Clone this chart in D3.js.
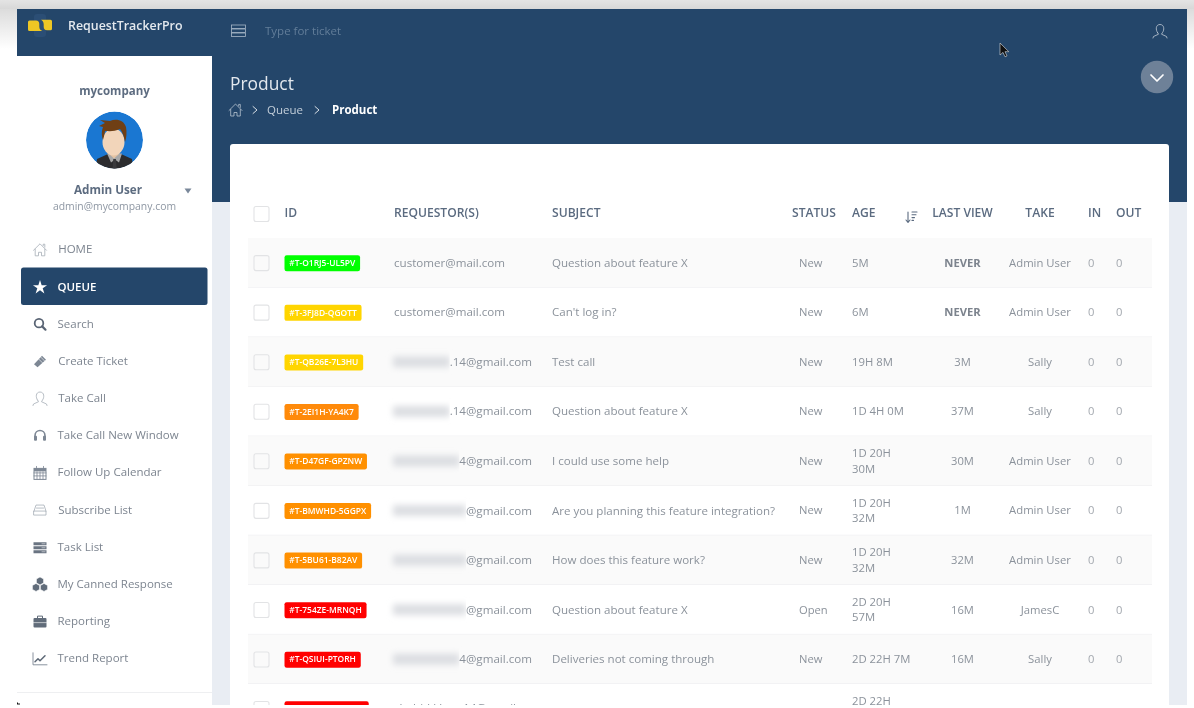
<!DOCTYPE html>
<html><head><meta charset="utf-8">
<script src="https://cdn.jsdelivr.net/npm/d3@7"></script>
<style>
html,body{margin:0;padding:0;background:#fff;overflow:hidden}
svg{display:block;font-family:"Open Sans",sans-serif;filter:blur(.45px)}
</style></head><body><div id="app"></div>
<script>
const ticketIds=["#T-O1RJ5-UL5PV","#T-3FJ8D-QGOTT","#T-QB26E-7L3HU","#T-2EI1H-YA4K7","#T-D47GF-GPZNW","#T-BMWHD-5GGPX","#T-5BU61-B82AV","#T-754ZE-MRNQH","#T-QSIUI-PTORH","#T-8KD2X-WLMNA"];
const pillColors=["#00ff00","#ffd500","#ffd500","#ff8a0a","#ff9000","#ff9000","#ff9000","#ff0000","#ff0000","#ff0000"];
const requestors=["customer@mail.com","customer@mail.com",".14@gmail.com",".14@gmail.com","4@gmail.com","@gmail.com","@gmail.com","@gmail.com","4@gmail.com","shahid.khan.14@gmail.com"];
const subjects=["Question about feature X","Can't log in?","Test call","Question about feature X","I could use some help","Are you planning this feature integration?","How does this feature work?","Question about feature X","Deliveries not coming through","Sales"];
const statuses=["New","New","New","New","New","New","New","Open","New","New"];
const ages=[["5M"],["6M"],["19H 8M"],["1D 4H 0M"],["1D 20H","30M"],["1D 20H","32M"],["1D 20H","32M"],["2D 20H","57M"],["2D 22H 7M"],["2D 22H","7M"]];
const lastViews=["NEVER","NEVER","3M","37M","30M","1M","32M","16M","16M","22M"];
const takes=["Admin User","Admin User","Sally","Sally","Admin User","Admin User","Admin User","JamesC","Sally","Sally"];
const inCounts=[0,0,0,0,0,0,0,0,0,0];
const outCounts=[0,0,0,0,0,0,0,0,0,0];
const headers=["ID","REQUESTOR(S)","SUBJECT","STATUS","AGE","LAST VIEW","TAKE","IN","OUT"];
const menuItems=["HOME","QUEUE","Search","Create Ticket","Take Call","Take Call New Window","Follow Up Calendar","Subscribe List","Task List","My Canned Response","Reporting","Trend Report"];

const W=1194,H=708,NAVY="#24466a",HEAD="#5b6b80",TXT="#8b929b";
const svg=d3.select("#app").append("svg").attr("width",W).attr("height",H).attr("viewBox",`0 0 ${W} ${H}`);
const defs=svg.append("defs");
const g1=defs.append("linearGradient").attr("id","top").attr("x1",0).attr("x2",0).attr("y1",0).attr("y2",1);
g1.append("stop").attr("offset",0).attr("stop-color","#e4e4e4");
g1.append("stop").attr("offset",1).attr("stop-color","#d8d8d8");
const g2=defs.append("linearGradient").attr("id","side").attr("x1",0).attr("x2",0).attr("y1",0).attr("y2",1);
g2.append("stop").attr("offset",0).attr("stop-color","#dcdcdc");
g2.append("stop").attr("offset",1).attr("stop-color","#ffffff");
defs.append("filter").attr("id","smear").attr("x","-20%").attr("y","-80%").attr("width","140%").attr("height","260%")
  .append("feGaussianBlur").attr("stdDeviation",3.2);
defs.append("clipPath").attr("id","page").append("rect").attr("x",0).attr("y",0).attr("width",W).attr("height",705);

const rect=(p,x,y,w,h,f,r)=>p.append("rect").attr("x",x).attr("y",y).attr("width",w).attr("height",h).attr("fill",f).attr("rx",r||0);
const text=(p,x,y,s,size,col,wt,anc)=>p.append("text").attr("x",x).attr("y",y).attr("dy","0.35em").text(s)
  .attr("font-size",size).attr("fill",col).attr("font-weight",wt||400).attr("text-anchor",anc||"start");
const stroke=(p,d,col,sw)=>p.append("path").attr("d",d).attr("fill","none").attr("stroke",col).attr("stroke-width",sw||1).attr("stroke-linecap","round").attr("stroke-linejoin","round");
const fill=(p,d,col)=>p.append("path").attr("d",d).attr("fill",col);

// window chrome
rect(svg,0,0,W,9,"url(#top)");
rect(svg,0,9,17,40,"url(#side)");
rect(svg,1187,9,7,40,"url(#side)");

const page=svg.append("g").attr("clip-path","url(#page)");
rect(page,17,9,1170,696,"#e9edf3");
rect(page,17,9,1170,193,NAVY);
rect(page,17,56,195,650,"#ffffff");

// logo
rect(page,34,14,12,23,"#2b4e75",3);
fill(page,"M29.5 20.5H36C38.3 20.5 39.3 22 39.3 24V26.5C39.3 29 40.5 30.3 42.3 31H29.5Q28 31 28 29.5V22Q28 20.5 29.5 20.5Z","#eec724");
fill(page,"M50.5 19.8Q52 19.8 52 21.3V28.8Q52 30.3 50.5 30.3H47C44.7 30.3 43.7 28.8 43.7 26.8V24.3C43.7 22 42.5 20.6 41 19.8Z","#eec724");
text(page,68,26,"RequestTrackerPro",12.4,"#e4e9ee",600);

// top bar
const ham=page.append("g");
[25,29,33].forEach(y=>ham.append("rect").attr("x",231.5).attr("y",y).attr("width",14).attr("height",3.4).attr("fill","none").attr("stroke","#a9b8c8").attr("stroke-width",.8));
text(page,265,31,"Type for ticket",11.5,"#627d99");
const user=(p,x,y,c)=>{const u=p.append("g").attr("transform",`translate(${x},${y})`);
  stroke(u,"M-2.5 1.5C-4.5-1-4.4-6.5 0-6.5S4.5-1 2.5 1.5L1.5 3.2 6.5 5.5 7 7M-2.5 1.5-1.5 3.2-6.5 5.5-7 7",c,.8);};
user(page,1160,31,"#c2ccd7");
page.append("circle").attr("cx",1157).attr("cy",77).attr("r",16.2).attr("fill","#6e8198");
stroke(page,"M1151 75l6 6 6-6","#fff",1.7);

// page title, breadcrumb
text(page,230,84,"Product",17.4,"#e3e8ee");
const home=(p,x,y,c)=>{const h=p.append("g").attr("transform",`translate(${x},${y})`);
  stroke(h,"M-6.5 0.5 0-6 6.5 .5M-4.8-.6V6H-1.5V2.5H1.5V6H4.8V-.6M3.2-4.2V-5.6H4.8V-2.6",c,.8);};
home(page,235.5,110,"#b8c4d0");
stroke(page,"M253 106.5l4 3.5-4 3.5","#d8dfe6",1);
text(page,267,110,"Queue",11.5,"#c4cfda");
stroke(page,"M315 106.5l4 3.5-4 3.5","#d8dfe6",1);
text(page,332,110,"Product",11.5,"#ffffff",700);

// sidebar profile
text(page,114.5,91,"mycompany",11.5,"#5d6c80",700,"middle");
const av=page.append("g");
const avClip=defs.append("clipPath").attr("id","avc");
avClip.append("circle").attr("cx",114.5).attr("cy",140).attr("r",28.5);
av.attr("clip-path","url(#avc)");
av.append("circle").attr("cx",114.5).attr("cy",140).attr("r",28.5).attr("fill","#1a77d2");
fill(av,"M95 172l2-13 11-5h13l11 5 2 13Z","#2c2c2e");
fill(av,"M107 153.5h15l-3 9-4-3-4 3Z","#a8a8a8");
fill(av,"M113.3 159h2.6l.8 10h-4.2Z","#3a3a3c");
fill(av,"M108.5 145h11v8.5l-5.5 5-5.5-5Z","#e4c3a3");
av.append("ellipse").attr("cx",113.5).attr("cy",142).attr("rx",11).attr("ry",13.5).attr("fill","#f2d5ba");
fill(av,"M103 140C101 134 102 130 103 127L99 126 105 123 100 120 110 121C116 118 124 120 126 127 127 132 126.5 138 125 142 124 136 122 131 120 129 114 132 108 131 105 131 104.5 134 104 137 103 140Z","#6f3f15");
text(page,108,190,"Admin User",11.7,"#5d6c80",700,"middle");
fill(page,"M184.5 188.5h7l-3.5 5Z","#7a889a");
text(page,114.5,206.5,"admin@mycompany.com",10.4,"#8e97a3",400,"middle");

// sidebar menu
const menuY=d3.scaleLinear().domain([0,menuItems.length-1]).range([249.3,658.3]);
rect(page,21,267.5,186.5,37.5,NAVY,2.5);
const IC="#7d8794";
const icons={
 0:(g)=>home(g,0,0,"#a6adb6"),
 1:(g)=>fill(g,d3.symbol(d3.symbolStar,62)(),"#fff").attr("transform","translate(0,1)"),
 2:(g)=>{g.append("circle").attr("cx",-1).attr("cy",-1).attr("r",4.3).attr("fill","none").attr("stroke","#596474").attr("stroke-width",1.8);stroke(g,"M2.2 2.2 5.5 5.5","#596474",2.2);},
 3:(g)=>{fill(g,"M-6 3 2-5.5 6-1.5-2.5 6Z",IC);stroke(g,"M-1-2 3 2M1-4 5 0","#fff",.6);},
 4:(g)=>user(g,0,0,"#a6adb6"),
 5:(g)=>{stroke(g,"M-5 3V0C-5-7 5-7 5 0V3",IC,1.6);rect(g,-6,0,3,5,IC,1);rect(g,3,0,3,5,IC,1);},
 6:(g)=>{g.append("rect").attr("x",-6).attr("y",-4.5).attr("width",12).attr("height",11).attr("fill","none").attr("stroke",IC).attr("stroke-width",1);
   rect(g,-6,-4.5,12,3,IC);stroke(g,"M-3.5-6.5V-4M3.5-6.5V-4M-6 0H6M-6 3H6M-3 -1V6M0-1V6M3-1V6",IC,.8);},
 7:(g)=>stroke(g,"M-6 1-4-5H4L6 1M-6 1H6V5H-6ZM-3.5-2H3.5","#a6adb6",.8),
 8:(g)=>{[-5,-1,3].forEach(y=>{rect(g,-6.5,y,13,3,"#6a7482");stroke(g,`M2 ${y+1.5}H5`,"#fff",.5);});},
 9:(g)=>{[[0,-3.5],[-4,3],[4,3]].forEach(p=>{g.append("path").attr("d",`M${p[0]-3.6} ${p[1]-2}L${p[0]} ${p[1]-4}L${p[0]+3.6} ${p[1]-2}V${p[1]+2}L${p[0]} ${p[1]+4}L${p[0]-3.6} ${p[1]+2}Z`).attr("fill","#616c7a").attr("stroke","#fff").attr("stroke-width",.6);});},
 10:(g)=>{rect(g,-6.5,-3.5,13,9.5,"#616c7a",1);stroke(g,"M-2.5-3.5V-5.5H2.5V-3.5","#616c7a",1);stroke(g,"M-6.5 1H6.5","#fff",.6);},
 11:(g)=>{stroke(g,"M-7-6V6H7",IC,.9);stroke(g,"M-5 3-2 0 0 2 5-3","#5d6876",1.5);}
};
menuItems.forEach((m,i)=>{
  const y=menuY(i), active=i===1;
  const ix=page.append("g").attr("transform",`translate(40,${y+(active?0:0.5)})`);
  icons[i](ix);
  text(page,[0,3,4,7].includes(i)?58.2:57.5,y,m,11.5,active?"#ffffff":"#7d8590",active?600:400);
});
rect(page,17,692,195,1,"#eeeff1");
fill(svg,"M17 702.5h1v1h2v1h-3Z","#111");

// card
rect(page,230,144,939,600,"#ffffff",3);

// table scales
const rowBand=d3.scaleBand().domain(d3.range(ticketIds.length)).range([238,733.5]);
const colX=d3.scaleOrdinal().domain(["check","ID","REQUESTOR(S)","SUBJECT","STATUS","AGE","LAST VIEW","TAKE","IN","OUT"])
  .range([261.5,284.5,394,552,792,852,962.5,1040,1088,1116]);
const headerAnchor=d=>(d==="LAST VIEW"||d==="TAKE")?"middle":"start";
const checkbox=(y)=>{page.append("rect").attr("x",colX("check")-7.5).attr("y",y-7.5).attr("width",15).attr("height",15).attr("rx",2)
   .attr("fill","none").attr("stroke","#e2e3e5").attr("stroke-width",1.1);};

// headers
checkbox(214);
headers.forEach(h=>text(page,colX(h),212.8,h,12.1,HEAD,600,headerAnchor(h)));
const sort=page.append("g").attr("transform","translate(906,217)");
stroke(sort,"M2-5V5M0 3 2 5.5 4 3",HEAD,1.1);
stroke(sort,"M6-5H11M6-2.2H10M6 .6H8.5M6 3.4H7.5",HEAD,1.1);

// rows
const rows=page.selectAll("g.row").data(d3.range(ticketIds.length)).join("g").attr("class","row");
rows.each(function(i){
  const r=d3.select(this), top=rowBand(i), bh=rowBand.bandwidth();
  rect(r,248,top,904,bh,i%2===0?"#fafafa":"#ffffff");
  rect(r,248,top+bh-.5,904,1,"#ebecee");
});
d3.range(ticketIds.length).forEach(i=>{
  const top=rowBand(i), c=top+rowBand.bandwidth()/2;
  checkbox(c+.3);
  // id pill
  const t=text(page,0,c+.3,ticketIds[i],8.45,"#ffffff",600);
  const tw=t.node().getComputedTextLength();
  t.attr("x",colX("ID")+4.8);
  rect(page,colX("ID"),c-7.5,tw+9.6,16,pillColors[i],2.2);
  t.raise();
  // requestor
  if(requestors[i].startsWith("customer")||i===ticketIds.length-1){
    text(page,colX("REQUESTOR(S)"),i===ticketIds.length-1?c-.6:c,requestors[i],11.6,TXT);
  }else{
    const s=text(page,532,c,requestors[i],11.6,TXT,400,"end");
    const start=532-s.node().getComputedTextLength();
    rect(page,393,c-5.5,start-393,11,"#dcdee2").attr("filter","url(#smear)");
    rect(page,start,c-12,8,24,i%2===0?"#fafafa":"#ffffff");
    s.raise();
  }
  text(page,colX("SUBJECT"),c,subjects[i],11.55,TXT);
  text(page,799,c,statuses[i],11.2,TXT);
  const a=ages[i];
  a.forEach((l,k)=>text(page,colX("AGE"),c+(k-(a.length-1)/2)*15.8,l,11.3,TXT));
  text(page,colX("LAST VIEW"),c,lastViews[i],11.2,lastViews[i]==="NEVER"?"#7c838d":TXT,lastViews[i]==="NEVER"?700:400,"middle");
  text(page,colX("TAKE"),c,takes[i],11.3,TXT,400,"middle");
  text(page,colX("IN"),c,inCounts[i],11.2,"#a3a8af");
  text(page,colX("OUT"),c,outCounts[i],11.2,"#a3a8af");
});

// mouse cursor
fill(svg,"M1000 43v12l3-2.6 2 4.4 2-.9-2-4.2h3.8Z","#111").attr("stroke","#ddd").attr("stroke-width",.6);
</script></body></html>
